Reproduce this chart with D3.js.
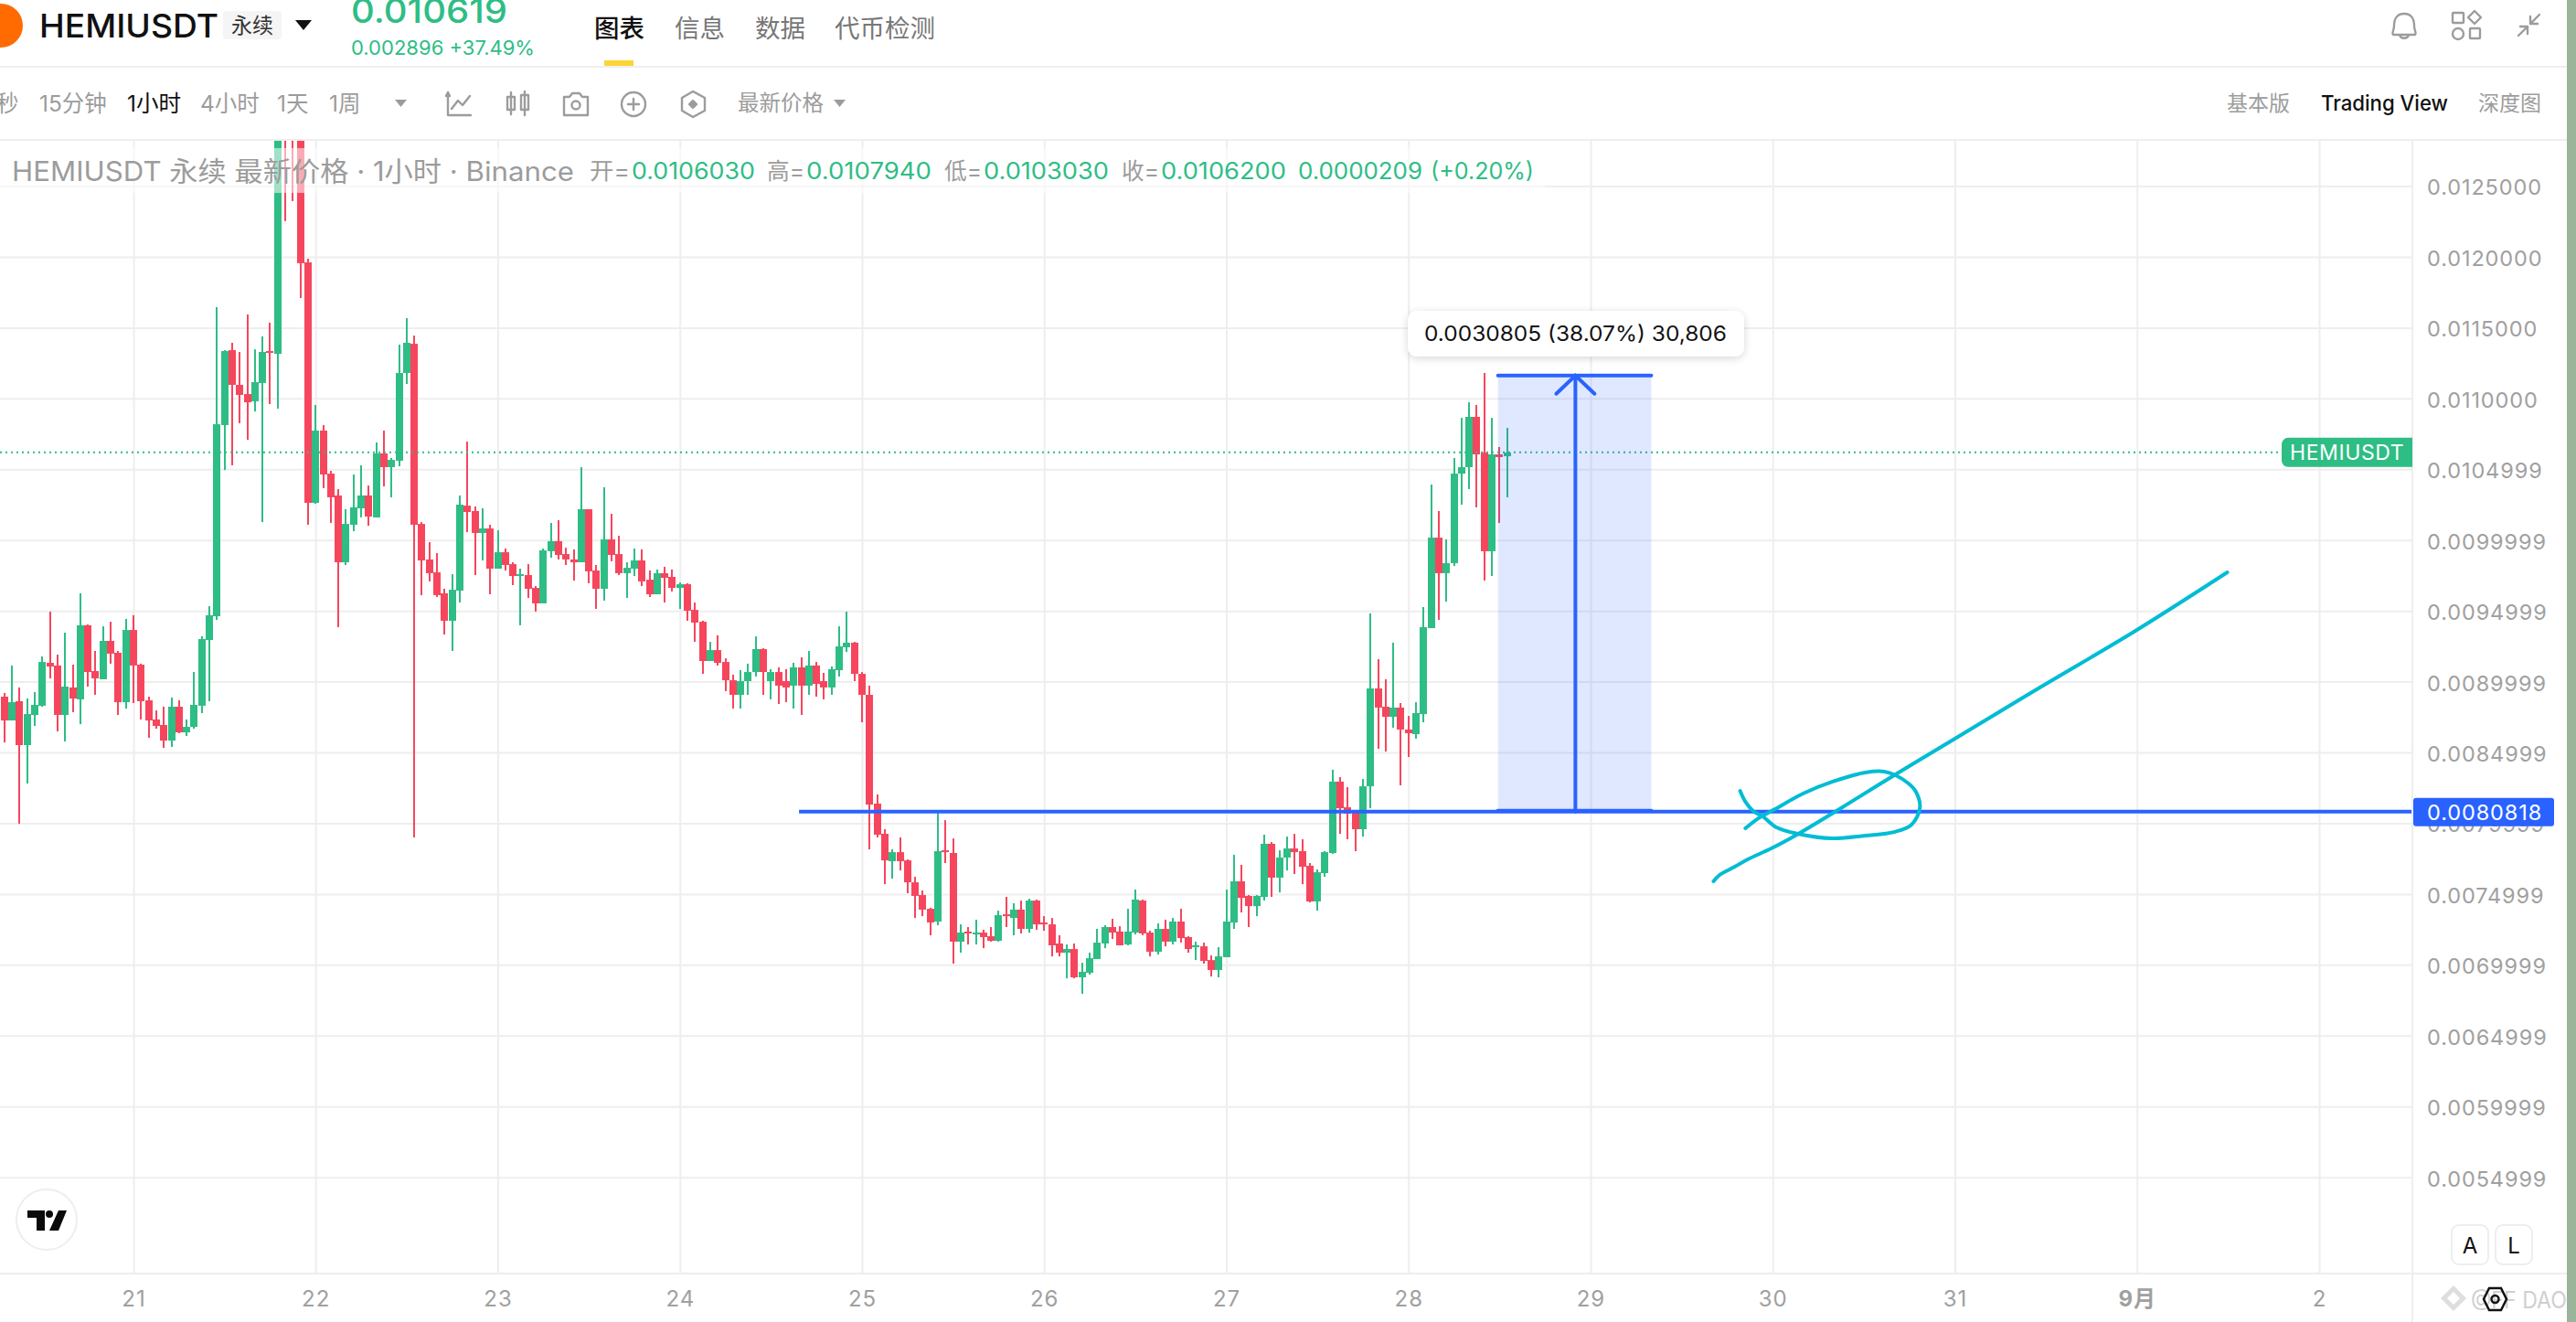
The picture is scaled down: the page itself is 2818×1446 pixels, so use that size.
<!DOCTYPE html>
<html>
<head>
<meta charset="utf-8">
<title>HEMIUSDT</title>
<script src="https://cdn.jsdelivr.net/npm/d3@7"></script>
<style>
    html, body { margin: 0; padding: 0; background: #fff; overflow: hidden; }
    svg { display: block; }
    text { font-family: Inter, "Noto Sans CJK SC", sans-serif; }
</style>
</head>
<body>
<div id="chart"></div>
<script>
// Prices are in millionths of a USDT
const firstHour = -17; // hours from the "21" tick to the first visible candle
const opens = [
    8894, 8726, 8862, 8552, 8765, 8830, 9133, 9114, 8765, 8959,
    8875, 9398, 9075, 9017, 9288, 9204, 8855, 9365, 9120, 8868,
    8733, 8694, 8584, 8823, 8642, 8681, 8830, 9294, 9462, 10812,
    11341, 11096, 11031, 10980, 11109, 11335, 11315, 13300, 13100, 12950,
    11961, 10263, 10773, 10469, 10315, 9843, 10108, 10224, 10315, 10160,
    10612, 10515, 10560, 11180, 11386, 10114, 9863, 9772, 9624, 9430,
    9643, 10243, 10205, 10050, 10082, 9798, 9914, 9830, 9746, 9753,
    9662, 9553, 9921, 9992, 9901, 9863, 9843, 10218, 9785, 9656,
    10005, 9901, 9766, 9798, 9856, 9720, 9617, 9766, 9740, 9662,
    9688, 9507, 9423, 9146, 9223, 9139, 9010, 8907, 9004, 9068,
    9230, 9004, 9068, 9004, 8972, 9101, 8972, 9114, 9004, 8959,
    9081, 9243, 9275, 9055, 8907, 8139, 7926, 7732, 7796, 7738,
    7583, 7493, 7396, 7306, 7809, 7790, 7164, 7235, 7215, 7228,
    7202, 7170, 7357, 7331, 7390, 7254, 7454, 7299, 7286, 7151,
    7086, 7112, 6912, 6944, 7041, 7151, 7267, 7235, 7144, 7228,
    7454, 7228, 7093, 7254, 7164, 7306, 7196, 7125, 7131, 7034,
    6964, 7054, 7299, 7590, 7487, 7415, 7480, 7855, 7616, 7758,
    7822, 7803, 7700, 7448, 7648, 7790, 8294, 8113, 8074, 7958,
    8261, 8952, 8823, 8752, 8817, 8662, 8629, 8771, 9378, 10017,
    9766, 9837, 10469, 10515, 10870, 10618, 9921, 10605, 10592
];
const closes = [
    8726, 8855, 8552, 8771, 8836, 9139, 9107, 8765, 8965, 8881,
    9398, 9068, 9023, 9288, 9198, 8855, 9365, 9114, 8862, 8726,
    8687, 8584, 8823, 8642, 8681, 8836, 9301, 9469, 10818, 11335,
    11096, 11025, 10973, 11115, 11328, 11322, 13100, 13050, 12900, 11955,
    10263, 10773, 10463, 10302, 9843, 10114, 10231, 10315, 10166, 10612,
    10515, 10566, 11180, 11393, 10108, 9856, 9766, 9611, 9430, 9649,
    10250, 10198, 10050, 10082, 9798, 9914, 9824, 9746, 9759, 9656,
    9553, 9927, 9992, 9895, 9863, 9843, 10218, 9779, 9656, 10005,
    9895, 9766, 9804, 9856, 9708, 9617, 9766, 9733, 9662, 9688,
    9501, 9417, 9146, 9223, 9133, 9010, 8907, 9004, 9068, 9230,
    9068, 9068, 8972, 8959, 9101, 8972, 9114, 8984, 8959, 9088,
    9249, 9275, 9055, 8907, 8132, 7919, 7738, 7796, 7732, 7583,
    7487, 7390, 7299, 7803, 7796, 7164, 7228, 7222, 7228, 7196,
    7170, 7351, 7344, 7390, 7254, 7454, 7286, 7286, 7138, 7086,
    7112, 6912, 6951, 7047, 7157, 7267, 7228, 7138, 7235, 7461,
    7222, 7093, 7254, 7164, 7306, 7189, 7112, 7138, 7028, 6964,
    7060, 7306, 7590, 7473, 7415, 7487, 7855, 7616, 7758, 7822,
    7796, 7693, 7448, 7654, 7796, 8294, 8106, 8068, 7958, 8261,
    8952, 8817, 8752, 8817, 8662, 8636, 8778, 9385, 10017, 9766,
    9837, 10469, 10515, 10870, 10605, 9921, 10605, 10586, 10618
];
const highs = [
    8920, 9114, 8959, 8881, 8926, 9178, 9495, 9191, 9346, 9120,
    9624, 9404, 9217, 9391, 9423, 9217, 9443, 9469, 9127, 8894,
    8797, 8823, 8888, 8868, 8733, 9068, 9320, 9533, 11645, 11341,
    11393, 11328, 11593, 11347, 11438, 11535, 13300, 13700, 13500, 13100,
    11987, 10954, 10812, 10489, 10360, 10218, 10463, 10528, 10385, 10689,
    10773, 10579, 11380, 11567, 11444, 10127, 9985, 9908, 9656, 9759,
    10315, 10695, 10237, 10224, 10108, 10069, 9940, 9843, 9798, 9830,
    9675, 9940, 10121, 10140, 9946, 9934, 10515, 10218, 9824, 10373,
    10185, 10030, 9843, 9940, 9934, 9785, 9792, 9811, 9792, 9701,
    9695, 9559, 9430, 9281, 9327, 9165, 9049, 9081, 9127, 9320,
    9236, 9088, 9101, 9088, 9133, 9172, 9217, 9139, 9062, 9107,
    9391, 9495, 9281, 9068, 8972, 8203, 7958, 7816, 7900, 7745,
    7622, 7525, 7403, 8087, 8022, 7893, 7286, 7267, 7319, 7248,
    7267, 7383, 7480, 7435, 7454, 7467, 7461, 7344, 7331, 7209,
    7144, 7151, 7015, 7086, 7254, 7280, 7325, 7273, 7396, 7532,
    7461, 7241, 7293, 7319, 7331, 7396, 7202, 7164, 7157, 7067,
    7125, 7532, 7777, 7706, 7493, 7493, 7919, 7867, 7809, 7906,
    7925, 7887, 7719, 7674, 7803, 8378, 8326, 8255, 8087, 8313,
    9482, 9159, 9017, 9275, 8849, 8758, 8855, 9527, 10392, 10205,
    10005, 10579, 10863, 10973, 10954, 11180, 10863, 10657, 10792
];
const lows = [
    8571, 8726, 7997, 8281, 8687, 8823, 9023, 8649, 8578, 8784,
    8700, 8965, 8907, 9017, 9127, 8765, 8810, 8849, 8733, 8603,
    8668, 8532, 8539, 8636, 8616, 8668, 8778, 8862, 9436, 10495,
    10528, 10825, 10708, 10908, 10127, 10960, 10928, 12252, 12394, 11709,
    10108, 10256, 10366, 10121, 9385, 9824, 10063, 10160, 10101, 10160,
    10379, 10302, 10521, 11102, 7900, 9611, 9708, 9598, 9333, 9217,
    9559, 10056, 9753, 9856, 9617, 9798, 9785, 9682, 9398, 9591,
    9495, 9553, 9875, 9863, 9824, 9714, 9843, 9695, 9514, 9572,
    9850, 9753, 9591, 9746, 9675, 9598, 9617, 9559, 9637, 9514,
    9430, 9281, 9055, 9146, 9114, 8933, 8810, 8810, 8907, 9036,
    8907, 8875, 8842, 8855, 8810, 8765, 8907, 8894, 8875, 8907,
    9036, 9210, 9004, 8713, 7816, 7900, 7570, 7609, 7667, 7506,
    7331, 7344, 7209, 7280, 7719, 7009, 7086, 7144, 7144, 7118,
    7164, 7164, 7267, 7209, 7222, 7228, 7248, 7241, 7060, 7060,
    6905, 6905, 6796, 6931, 7041, 7118, 7183, 7138, 7138, 7215,
    7209, 7060, 7073, 7131, 7144, 7157, 7086, 7034, 7009, 6918,
    6912, 7054, 7254, 7370, 7267, 7344, 7454, 7480, 7512, 7667,
    7641, 7570, 7441, 7383, 7622, 7784, 7925, 7887, 7803, 7906,
    8106, 8526, 8507, 8675, 8268, 8468, 8597, 8713, 9378, 9436,
    9565, 9817, 10250, 10360, 10231, 9714, 9746, 10121, 10302
];

const priceTicks = [12500, 12000, 11500, 11000, 10500, 10000, 9500, 9000, 8500, 8000, 7500, 7000, 6500, 6000, 5500];
const priceLabels = ["0.0125000", "0.0120000", "0.0115000", "0.0110000", "0.0104999", "0.0099999", "0.0094999",
    "0.0089999", "0.0084999", "0.0079999", "0.0074999", "0.0069999", "0.0064999", "0.0059999", "0.0054999"];
const dayTicks = [0, 24, 48, 72, 96, 120, 144, 168, 192, 216, 240, 264, 288];
const dayLabels = ["21", "22", "23", "24", "25", "26", "27", "28", "29", "30", "31", "9月", "2"];

const lastPrice = 10619;
const linePrice = 8081.8;
const lineStartHour = 87.7;
const measureHigh = 11162.3;
const measureHours = [179.8, 190, 200];

// hand drawn cyan strokes
const trendHours = [208.2, 209, 211, 212.7, 215.8, 219.4, 224.4, 232, 240, 251.4, 263.8, 275.9];
const trendPrices = [7590, 7635, 7693, 7745, 7822, 7926, 8087, 8339, 8597, 8965, 9359, 9772];
const loopHours = [211.7, 212.4, 213.4, 214.7, 216.5, 219.3, 223.9, 228.2, 232, 234.3, 235.4, 234.8, 233.9, 232.2, 230.7, 228.2, 223.9, 220, 216.3, 214.1, 212.4];
const loopPrices = [8229, 8152, 8087, 8048, 7971, 7926, 7893, 7913, 7938, 7990, 8113, 8229, 8281, 8339, 8365, 8358, 8294, 8210, 8100, 8035, 7964];

const width = 2818, height = 1446;
const plotRight = 2639, plotTop = 153, plotBottom = 1393;
const green = "#2EBD85", red = "#F6465D", blue = "#2962FF", cyan = "#00BCD4";
const grey = "#9C9C9C", gridColor = "#EEEEEE";

const svg = d3.select("#chart").append("svg")
    .attr("width", width)
    .attr("height", height);

svg.append("defs").append("clipPath").attr("id", "plot")
    .append("rect")
    .attr("x", 0).attr("y", plotTop)
    .attr("width", plotRight).attr("height", plotBottom - plotTop);

const filter = svg.select("defs").append("filter").attr("id", "shadow")
    .attr("x", "-10%").attr("y", "-30%").attr("width", "120%").attr("height", "170%");
filter.append("feDropShadow")
    .attr("dx", 0).attr("dy", 2).attr("stdDeviation", 4)
    .attr("flood-color", "#000").attr("flood-opacity", 0.16);

const x = d3.scaleLinear().domain([0, 288]).range([146, 2537]);
const y = d3.scaleLinear().domain([12500, 5500]).range([203.5, 1287.7]);

// Grid lines come from the axes
const gridX = svg.append("g")
    .attr("transform", `translate(0,${plotBottom})`)
    .call(d3.axisBottom(x).tickValues(dayTicks).tickSize(plotTop - plotBottom).tickFormat(""));
const gridY = svg.append("g")
    .call(d3.axisRight(y).tickValues(priceTicks).tickSize(plotRight).tickFormat(""));
[gridX, gridY].forEach(g => {
    g.select(".domain").remove();
    g.selectAll("line").attr("stroke", gridColor).attr("stroke-width", 2);
});

// Candles
const candles = opens.map((o, i) => ({
    hour: firstHour + i, open: o, close: closes[i], high: highs[i], low: lows[i]
}));
const plot = svg.append("g").attr("clip-path", "url(#plot)");
const candleColor = d => d.close >= d.open ? green : red;

plot.selectAll(".wick").data(candles).join("rect")
    .attr("class", "wick")
    .attr("x", d => Math.round(x(d.hour)) - 1)
    .attr("width", 2)
    .attr("y", d => y(d.high))
    .attr("height", d => y(d.low) - y(d.high))
    .attr("fill", candleColor);

plot.selectAll(".body").data(candles).join("rect")
    .attr("class", "body")
    .attr("x", d => Math.round(x(d.hour)) - 4)
    .attr("width", 8)
    .attr("y", d => y(Math.max(d.open, d.close)))
    .attr("height", d => Math.max(1.5, Math.abs(y(d.open) - y(d.close))))
    .attr("fill", candleColor);

// Last price dotted line
plot.append("line")
    .attr("x1", 0).attr("x2", 2496)
    .attr("y1", y(lastPrice)).attr("y2", y(lastPrice))
    .attr("stroke", green).attr("stroke-width", 2)
    .attr("stroke-dasharray", "2 4");

// Measure tool
const mx0 = x(measureHours[0]), mxMid = x(measureHours[1]), mx1 = x(measureHours[2]);
const myTop = y(measureHigh), myBottom = y(linePrice);
plot.append("rect")
    .attr("x", mx0).attr("y", myTop)
    .attr("width", mx1 - mx0).attr("height", myBottom - myTop)
    .attr("fill", blue).attr("fill-opacity", 0.15);

// Horizontal line
plot.append("line")
    .attr("x1", x(lineStartHour)).attr("x2", plotRight)
    .attr("y1", y(linePrice)).attr("y2", y(linePrice))
    .attr("stroke", blue).attr("stroke-width", 4);

const measure = plot.append("g")
    .attr("fill", "none").attr("stroke", blue).attr("stroke-width", 4).attr("stroke-linecap", "round");
measure.append("line").attr("x1", mx0).attr("x2", mx1).attr("y1", myTop).attr("y2", myTop);
measure.append("line").attr("x1", mx0).attr("x2", mx1).attr("y1", myBottom - 1).attr("y2", myBottom - 1);
measure.append("line").attr("x1", mxMid).attr("x2", mxMid).attr("y1", myTop).attr("y2", myBottom);
measure.append("path")
    .attr("d", `M${mxMid - 21},${myTop + 20}L${mxMid},${myTop}L${mxMid + 21},${myTop + 20}`);

// Cyan freehand strokes
const strokeLine = d3.line().x(d => x(d[0])).y(d => y(d[1])).curve(d3.curveCatmullRom);
[[trendHours, trendPrices], [loopHours, loopPrices]].forEach(s => {
    plot.append("path")
        .attr("d", strokeLine(d3.zip(s[0], s[1])))
        .attr("fill", "none").attr("stroke", cyan).attr("stroke-width", 4)
        .attr("stroke-linecap", "round").attr("stroke-linejoin", "round");
});

// Measure tooltip
svg.append("rect")
    .attr("x", 1540).attr("y", 340).attr("width", 368).attr("height", 50).attr("rx", 10)
    .attr("fill", "#fff").attr("filter", "url(#shadow)");
addText(1558, 373, "0.0030805 (38.07%) 30,806", { size: 23, fill: "#111", end: 1889 });

// Legend strip over the candles
svg.append("rect")
    .attr("x", 0).attr("y", 162).attr("width", 1690).attr("height", 49)
    .attr("fill", "#fff").attr("fill-opacity", 0.55);
addText(13, 198, "HEMIUSDT 永续 最新价格 · 1小时 · Binance", { size: 29.5, fill: grey, end: 628 });
const legendItems = [
    [645, "开=", grey, 689], [691, "0.0106030", green, 826],
    [839, "高=", grey, 880], [882, "0.0107940", green, 1019],
    [1033, "低=", grey, 1074], [1076, "0.0103030", green, 1213],
    [1227, "收=", grey, 1268], [1270, "0.0106200", green, 1407],
    [1420, "0.0000209", green, 1556], [1565, "(+0.20%)", green, 1678]
];
legendItems.forEach(d => addText(d[0], 196, d[1], { size: 25, fill: d[2], end: d[3] }));

// Axes
const yAxis = svg.append("g")
    .attr("transform", `translate(${plotRight},0)`)
    .call(d3.axisRight(y).tickValues(priceTicks).tickSize(0).tickPadding(16)
        .tickFormat((d, i) => priceLabels[i]));
yAxis.select(".domain").remove();
yAxis.selectAll("text")
    .attr("font-size", 23.5).attr("letter-spacing", 0.9).attr("fill", "#A0A0A0")
    .attr("dy", "0.4em")
    .style("font-family", "Inter");

const xAxis = svg.append("g")
    .attr("transform", `translate(0,${plotBottom})`)
    .call(d3.axisBottom(x).tickValues(dayTicks).tickSize(0).tickPadding(19)
        .tickFormat((d, i) => dayLabels[i]));
xAxis.select(".domain").remove();
xAxis.selectAll("text")
    .attr("font-size", 24).attr("letter-spacing", 1).attr("fill", "#A0A0A0")
    .attr("font-weight", (d, i) => dayLabels[i] === "9月" ? 700 : 400);

svg.append("line").attr("x1", plotRight).attr("x2", plotRight).attr("y1", plotTop).attr("y2", height)
    .attr("stroke", gridColor).attr("stroke-width", 2);
svg.append("line").attr("x1", 0).attr("x2", 2808).attr("y1", plotBottom).attr("y2", plotBottom)
    .attr("stroke", gridColor).attr("stroke-width", 2);

// Price labels on the axis
svg.append("path")
    .attr("d", `M2503,${y(lastPrice) - 16}H${plotRight}V${y(lastPrice) + 16}H2503a7,7 0 0 1 -7,-7V${y(lastPrice) - 9}a7,7 0 0 1 7,-7Z`)
    .attr("fill", green);
addText(2505, y(lastPrice) + 8, "HEMIUSDT", { size: 23, fill: "#fff", spacing: 0.6 });
svg.append("rect")
    .attr("x", 2640).attr("y", y(linePrice) - 15).attr("width", 154).attr("height", 31).attr("rx", 3)
    .attr("fill", blue);
addText(2655, y(linePrice) + 9, "0.0080818", { size: 23.5, fill: "#fff", spacing: 0.9 });

// A / L buttons
[[2682, "A"], [2730, "L"]].forEach(d => {
    svg.append("rect")
        .attr("x", d[0]).attr("y", 1340).attr("width", 40).attr("height", 43).attr("rx", 8)
        .attr("fill", "#fff").attr("stroke", gridColor).attr("stroke-width", 2);
    addText(d[0] + 20, 1371, d[1], { size: 24, fill: "#111", anchor: "middle" });
});

// TradingView badge
svg.append("circle").attr("cx", 51).attr("cy", 1334).attr("r", 33)
    .attr("fill", "#fff").attr("stroke", gridColor).attr("stroke-width", 2);
svg.append("path")
    .attr("d", "M30,1324H49V1346H40V1332H30ZM64,1324H73L64,1346H54Z")
    .attr("fill", "#0b0b0b");
svg.append("circle").attr("cx", 54).attr("cy", 1328).attr("r", 4).attr("fill", "#0b0b0b");

// Header
svg.append("line").attr("x1", 0).attr("x2", 2808).attr("y1", 73).attr("y2", 73).attr("stroke", gridColor).attr("stroke-width", 2);
svg.append("line").attr("x1", 0).attr("x2", 2808).attr("y1", 153).attr("y2", 153).attr("stroke", gridColor).attr("stroke-width", 2);

svg.append("circle").attr("cx", 1).attr("cy", 28).attr("r", 24).attr("fill", "#FF6B00");
addText(43, 41, "HEMIUSDT", { size: 36, fill: "#111", weight: 500, end: 239 });
svg.append("rect").attr("x", 244).attr("y", 12).attr("width", 64).attr("height", 31).attr("rx", 4).attr("fill", "#F5F5F5");
addText(276, 36, "永续", { size: 23, fill: "#333", anchor: "middle" });
triangle(323, 22, 18, 11, "#111");
addText(384, 25, "0.010619", { size: 37, fill: green, weight: 500, end: 555 });
addText(384, 60, "0.002896 +37.49%", { size: 21.5, fill: green, end: 585 });

addText(650, 41, "图表", { size: 27.5, fill: "#111", weight: 500 });
[[738, "信息"], [826, "数据"], [913, "代币检测"]].forEach(d => addText(d[0], 41, d[1], { size: 27.5, fill: "#777" }));
svg.append("rect").attr("x", 661).attr("y", 66).attr("width", 32).attr("height", 6).attr("fill", "#FCD535");

const intervals = [[-4, "秒", grey], [43, "15分钟", grey], [139, "1小时", "#111"], [219, "4小时", grey], [303, "1天", grey], [360, "1周", grey]];
intervals.forEach(d => addText(d[0], 122, d[1], { size: 24.5, fill: d[2] }));
triangle(432, 109, 13, 8, grey);
addText(807, 121, "最新价格", { size: 23.5, fill: grey });
triangle(912, 109, 13, 8, grey);

addText(2436, 121, "基本版", { size: 23, fill: grey });
addText(2539, 121, "Trading View", { size: 23, fill: "#111", weight: 500, end: 2678 });
addText(2711, 121, "深度图", { size: 23, fill: grey });

// Toolbar icons
const icons = svg.append("g").attr("fill", "none").attr("stroke", grey).attr("stroke-width", 2.4)
    .attr("stroke-linejoin", "round").attr("stroke-linecap", "round");
icons.append("path").attr("d", "M490,101V126H515M494,119L501,110L506,115L514,105M490,101l-2,4h4Z");
icons.append("path").attr("d", "M555,106H563V120H555ZM570,104H578V120H570ZM559,101V125M574,100V126");
icons.append("path").attr("d", "M617,106H623L626,102H634L637,106H643V126H617Z");
icons.append("circle").attr("cx", 630).attr("cy", 115).attr("r", 4.500);
icons.append("circle").attr("cx", 693).attr("cy", 114).attr("r", 13);
icons.append("path").attr("d", "M693,108V120M687,114H699");
icons.append("path").attr("d", "M758,100L771,107V121L758,128L746,121V107Z");
icons.append("path").attr("d", "M758,110L762,114L758,118L754,114Z").attr("fill", grey);
icons.append("path").attr("d", "M2630,15C2622,15 2619,21 2619,28C2619,34 2616,36 2618,38H2642C2644,36 2641,34 2641,28C2641,21 2638,15 2630,15ZM2625,38C2626,43 2634,43 2635,38");
icons.append("rect").attr("x", 2683).attr("y", 14).attr("width", 12).attr("height", 11).attr("rx", 1);
icons.append("path").attr("d", "M2707,12L2714,19L2707,26L2700,19Z");
icons.append("circle").attr("cx", 2689).attr("cy", 37).attr("r", 6);
icons.append("rect").attr("x", 2702).attr("y", 31).attr("width", 11).attr("height", 11).attr("rx", 1);
icons.append("path").attr("d", "M2778,16L2768,26M2768,18V26H2776M2755,39L2765,29M2765,37V29H2757");

// Green strip on the right edge of the screenshot
svg.append("rect").attr("x", 2808).attr("y", 0).attr("width", 10).attr("height", height).attr("fill", "#9AB59A");

// Watermark
svg.append("path")
    .attr("d", "M2684,1406L2698,1420L2684,1434L2670,1420ZM2684,1413L2691,1420L2684,1427L2677,1420Z")
    .attr("fill", "#dedede").attr("fill-rule", "evenodd");
addText(2703, 1431, "@FF DAO", { size: 25, fill: "#cfcfcf", end: 2808 });
svg.append("path")
    .attr("d", "M2723,1409H2736L2742,1421L2736,1433H2723L2717,1421Z")
    .attr("fill", "none").attr("stroke", "#111").attr("stroke-width", 2.5);
svg.append("circle").attr("cx", 2729.500).attr("cy", 1421).attr("r", 4)
    .attr("fill", "none").attr("stroke", "#111").attr("stroke-width", 2.5);

function addText(px, py, str, o) {
    const t = svg.append("text")
        .attr("x", px).attr("y", py)
        .attr("font-size", o.size).attr("fill", o.fill)
        .attr("font-weight", o.weight || 400)
        .attr("text-anchor", o.anchor || "start")
        .text(str);
    if (o.spacing) t.attr("letter-spacing", o.spacing);
    // squeeze or stretch to the width measured on the picture
    if (o.end) t.attr("textLength", o.end - px).attr("lengthAdjust", "spacingAndGlyphs");
    return t;
}

function triangle(px, py, w, h, fill) {
    svg.append("path")
        .attr("d", `M${px},${py}H${px + w}L${px + w / 2},${py + h}Z`)
        .attr("fill", fill);
}
</script>
</body>
</html>
